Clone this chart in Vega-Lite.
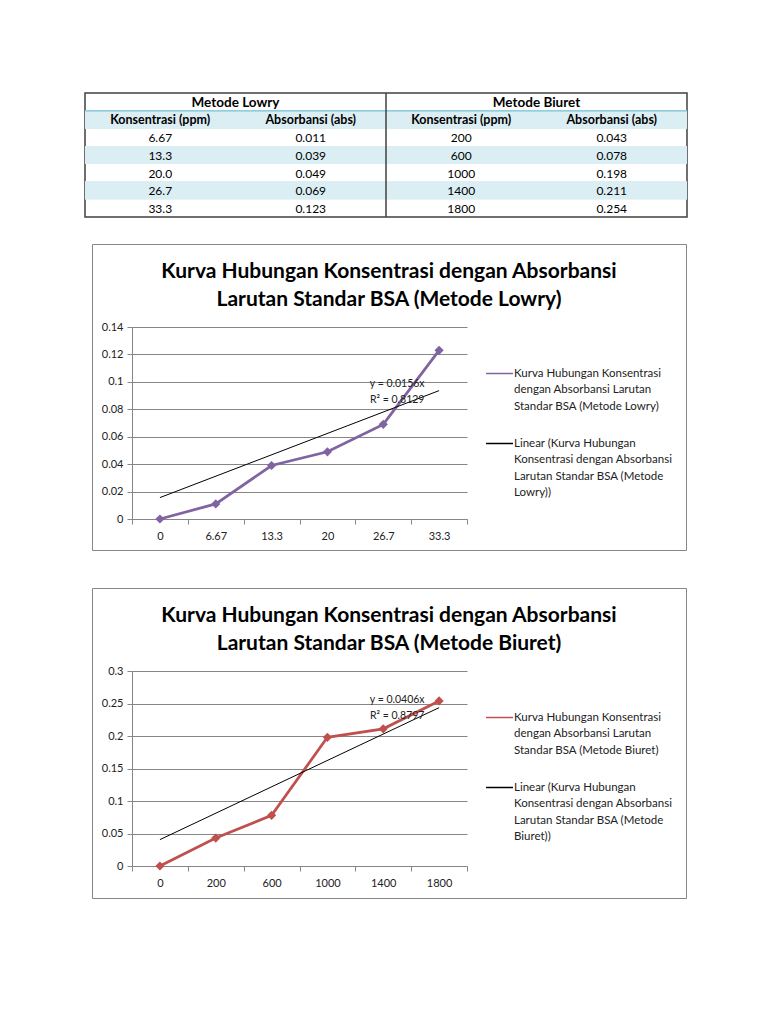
{
  "$schema": "https://vega.github.io/schema/vega-lite/v6.json",
  "background": "white",
  "padding": {"left": 83, "top": 91, "right": 0, "bottom": 0},
  "config": {
    "font": "Lato",
    "view": {"stroke": null},
    "axis": {"labelFont": "Lato", "labelFontSize": 11, "labelColor": "#222222", "domainColor": "#868686", "tickColor": "#868686", "gridColor": "#868686", "gridWidth": 1}
  },
  "datasets": {
    "tableTitle": [
      {"col": "lk", "row": "t", "text": "Metode Lowry"},
      {"col": "rk", "row": "t", "text": "Metode Biuret"}
    ],
    "tableHead": [
      {"col": "lk", "row": "h", "text": "Konsentrasi (ppm)"},
      {"col": "la", "row": "h", "text": "Absorbansi (abs)"},
      {"col": "rk", "row": "h", "text": "Konsentrasi (ppm)"},
      {"col": "ra", "row": "h", "text": "Absorbansi (abs)"}
    ],
    "tableBody": [
      {"col": "lk", "row": "r1", "text": "6.67"}, {"col": "la", "row": "r1", "text": "0.011"}, {"col": "rk", "row": "r1", "text": "200"}, {"col": "ra", "row": "r1", "text": "0.043"},
      {"col": "lk", "row": "r2", "text": "13.3"}, {"col": "la", "row": "r2", "text": "0.039"}, {"col": "rk", "row": "r2", "text": "600"}, {"col": "ra", "row": "r2", "text": "0.078"},
      {"col": "lk", "row": "r3", "text": "20.0"}, {"col": "la", "row": "r3", "text": "0.049"}, {"col": "rk", "row": "r3", "text": "1000"}, {"col": "ra", "row": "r3", "text": "0.198"},
      {"col": "lk", "row": "r4", "text": "26.7"}, {"col": "la", "row": "r4", "text": "0.069"}, {"col": "rk", "row": "r4", "text": "1400"}, {"col": "ra", "row": "r4", "text": "0.211"},
      {"col": "lk", "row": "r5", "text": "33.3"}, {"col": "la", "row": "r5", "text": "0.123"}, {"col": "rk", "row": "r5", "text": "1800"}, {"col": "ra", "row": "r5", "text": "0.254"}
    ],
    "lowry": [
      {"cat": "0", "v": 0}, {"cat": "6.67", "v": 0.011}, {"cat": "13.3", "v": 0.039},
      {"cat": "20", "v": 0.049}, {"cat": "26.7", "v": 0.069}, {"cat": "33.3", "v": 0.123}
    ],
    "lowryTrend": [{"cat": "0", "v": 0.0156}, {"cat": "33.3", "v": 0.0936}],
    "lowryEq": [
      {"cat": "26.7", "v": 0.0984, "label": "y = 0.0156x"},
      {"cat": "26.7", "v": 0.0868, "label": "R² = 0.8129"}
    ],
    "biuret": [
      {"cat": "0", "v": 0}, {"cat": "200", "v": 0.043}, {"cat": "600", "v": 0.078},
      {"cat": "1000", "v": 0.198}, {"cat": "1400", "v": 0.211}, {"cat": "1800", "v": 0.254}
    ],
    "biuretTrend": [{"cat": "0", "v": 0.0406}, {"cat": "1800", "v": 0.2436}],
    "biuretEq": [
      {"cat": "1400", "v": 0.2554, "label": "y = 0.0406x"},
      {"cat": "1400", "v": 0.2308, "label": "R² = 0.8797"}
    ]
  },
  "spacing": 19,
  "vconcat": [
    {
      "width": 602,
      "height": 124,
      "view": {"stroke": "#404040", "strokeWidth": 1.5},
      "layer": [
        {
          "data": {"name": "tableHead"},
          "mark": {"type": "rect", "fill": "#DBEEF4"},
          "encoding": {
            "y": {"field": "row", "type": "nominal", "scale": {"type": "band", "domain": ["t", "h", "r1", "r2", "r3", "r4", "r5"], "paddingInner": 0, "paddingOuter": 0}, "axis": null}
          }
        },
        {
          "data": {"name": "tableBody"},
          "transform": [{"filter": "datum.row == 'r2' || datum.row == 'r4'"}],
          "mark": {"type": "rect", "fill": "#DBEEF4"},
          "encoding": {
            "y": {"field": "row", "type": "nominal", "axis": null}
          }
        },
        {
          "data": {"name": "tableHead"},
          "mark": {"type": "rule", "color": "#93CDDD", "strokeWidth": 1.2},
          "encoding": {
            "y": {"field": "row", "type": "nominal", "bandPosition": 0, "axis": null}
          }
        },
        {
          "data": {"name": "tableTitle"},
          "transform": [{"filter": "datum.col == 'rk'"}],
          "mark": {"type": "rule", "color": "#404040", "strokeWidth": 1.5},
          "encoding": {
            "x": {"field": "col", "type": "nominal", "bandPosition": 0, "scale": {"type": "band", "domain": ["lk", "la", "rk", "ra"], "paddingInner": 0, "paddingOuter": 0}, "axis": null}
          }
        },
        {
          "data": {"name": "tableTitle"},
          "mark": {"type": "text", "font": "Lato", "fontWeight": "bold", "fontSize": 13.5, "color": "#000000", "baseline": "middle"},
          "encoding": {
            "x": {"field": "col", "type": "nominal", "bandPosition": 1, "axis": null},
            "y": {"field": "row", "type": "nominal", "bandPosition": 0.58, "axis": null},
            "text": {"field": "text"}
          }
        },
        {
          "data": {"name": "tableHead"},
          "mark": {"type": "text", "font": "Lato", "fontWeight": "bold", "fontSize": 12.5, "color": "#000000", "baseline": "middle"},
          "encoding": {
            "x": {"field": "col", "type": "nominal", "bandPosition": 0.5, "axis": null},
            "y": {"field": "row", "type": "nominal", "bandPosition": 0.55, "axis": null},
            "text": {"field": "text"}
          }
        },
        {
          "data": {"name": "tableBody"},
          "mark": {"type": "text", "font": "Lato", "fontSize": 12, "color": "#000000", "baseline": "middle"},
          "encoding": {
            "x": {"field": "col", "type": "nominal", "bandPosition": 0.5, "axis": null},
            "y": {"field": "row", "type": "nominal", "bandPosition": 0.55, "axis": null},
            "text": {"field": "text"}
          }
        }
      ]
    },
    {
      "spacing": 5,
      "hconcat": [
        {
          "width": 1,
          "height": 1,
          "view": {"stroke": null},
          "data": {"values": [{"a": 0}]},
          "mark": {"type": "text", "text": ""}
        },
        {
          "spacing": 36,
          "resolve": {"scale": {"color": "independent", "x": "independent", "y": "independent"}, "legend": {"color": "independent"}},
          "vconcat": [
            {
              "width": 594,
              "height": 306,
              "view": {"stroke": "#868686", "strokeWidth": 1},
              "title": {"text": ["Kurva Hubungan Konsentrasi dengan Absorbansi", "Larutan Standar BSA (Metode Lowry)"], "frame": "group", "anchor": "middle", "offset": -66, "font": "Lato", "fontSize": 21, "fontWeight": "bold", "lineHeight": 28, "color": "#000000"},
              "encoding": {
                "x": {"field": "cat", "type": "nominal", "bandPosition": 0.5,
                  "scale": {"type": "band", "domain": ["0", "6.67", "13.3", "20", "26.7", "33.3"], "range": [40, 375], "paddingInner": 0, "paddingOuter": 0},
                  "axis": {"orient": "bottom", "offset": -31, "tickBand": "extent", "tickSize": 5, "labelPadding": 6, "labelAngle": 0, "grid": false, "title": null}},
                "y": {"field": "v", "type": "quantitative",
                  "scale": {"domain": [0, 0.14], "range": [275, 83], "nice": false, "zero": false},
                  "axis": {"orient": "left", "offset": -40, "values": [0, 0.02, 0.04, 0.06, 0.08, 0.1, 0.12, 0.14], "format": ".2~f", "tickSize": 5, "labelPadding": 4, "grid": true, "title": null}}
              },
              "layer": [
                {
                  "data": {"name": "lowry"},
                  "mark": {"type": "line", "strokeWidth": 2.75},
                  "encoding": {
                    "color": {"datum": "Kurva Hubungan Konsentrasi dengan Absorbansi Larutan Standar BSA (Metode Lowry)", "type": "nominal",
                      "scale": {"domain": ["Kurva Hubungan Konsentrasi dengan Absorbansi Larutan Standar BSA (Metode Lowry)", "Linear (Kurva Hubungan Konsentrasi dengan Absorbansi Larutan Standar BSA (Metode Lowry))"], "range": ["#8064A2", "#000000"]},
                      "legend": {"orient": "none", "legendX": 393, "legendY": 115, "title": null, "padding": 0, "labelFont": "Lato", "labelFontSize": 11.5, "labelColor": "#222222", "labelLimit": 400, "labelOffset": 0, "symbolSize": 729, "rowPadding": 17,
                        "labelExpr": "indexof(datum.label, 'Linear') == 0 ? ['Linear (Kurva Hubungan', 'Konsentrasi dengan Absorbansi', 'Larutan Standar BSA (Metode', 'Lowry))'] : ['Kurva Hubungan Konsentrasi', 'dengan Absorbansi Larutan', 'Standar BSA (Metode Lowry)']",
                        "encode": {"labels": {"update": {"lineHeight": {"value": 16.5}}}}
                      }
                    }
                  }
                },
                {
                  "data": {"name": "lowry"},
                  "mark": {"type": "point", "shape": "diamond", "filled": true, "size": 85, "color": "#8064A2", "opacity": 1}
                },
                {
                  "data": {"name": "lowryTrend"},
                  "mark": {"type": "line", "strokeWidth": 1},
                  "encoding": {
                    "color": {"datum": "Linear (Kurva Hubungan Konsentrasi dengan Absorbansi Larutan Standar BSA (Metode Lowry))", "type": "nominal"}
                  }
                },
                {
                  "data": {"name": "lowryEq"},
                  "mark": {"type": "text", "font": "Lato", "fontSize": 10.5, "color": "#222222", "align": "center", "baseline": "middle"},
                  "encoding": {
                    "x": {"field": "cat", "type": "nominal", "bandPosition": 0.75},
                    "text": {"field": "label"}
                  }
                }
              ]
            },
            {
              "width": 594,
              "height": 310,
              "view": {"stroke": "#868686", "strokeWidth": 1},
              "title": {"text": ["Kurva Hubungan Konsentrasi dengan Absorbansi", "Larutan Standar BSA (Metode Biuret)"], "frame": "group", "anchor": "middle", "offset": -66, "font": "Lato", "fontSize": 21, "fontWeight": "bold", "lineHeight": 28, "color": "#000000"},
              "encoding": {
                "x": {"field": "cat", "type": "nominal", "bandPosition": 0.5,
                  "scale": {"type": "band", "domain": ["0", "200", "600", "1000", "1400", "1800"], "range": [40, 375], "paddingInner": 0, "paddingOuter": 0},
                  "axis": {"orient": "bottom", "offset": -32, "tickBand": "extent", "tickSize": 5, "labelPadding": 6, "labelAngle": 0, "grid": false, "title": null}},
                "y": {"field": "v", "type": "quantitative",
                  "scale": {"domain": [0, 0.3], "range": [278, 83], "nice": false, "zero": false},
                  "axis": {"orient": "left", "offset": -40, "values": [0, 0.05, 0.1, 0.15, 0.2, 0.25, 0.3], "format": ".2~f", "tickSize": 5, "labelPadding": 4, "grid": true, "title": null}}
              },
              "layer": [
                {
                  "data": {"name": "biuret"},
                  "mark": {"type": "line", "strokeWidth": 2.75},
                  "encoding": {
                    "color": {"datum": "Kurva Hubungan Konsentrasi dengan Absorbansi Larutan Standar BSA (Metode Biuret)", "type": "nominal",
                      "scale": {"domain": ["Kurva Hubungan Konsentrasi dengan Absorbansi Larutan Standar BSA (Metode Biuret)", "Linear (Kurva Hubungan Konsentrasi dengan Absorbansi Larutan Standar BSA (Metode Biuret))"], "range": ["#C0504D", "#000000"]},
                      "legend": {"orient": "none", "legendX": 393, "legendY": 115, "title": null, "padding": 0, "labelFont": "Lato", "labelFontSize": 11.5, "labelColor": "#222222", "labelLimit": 400, "labelOffset": 0, "symbolSize": 729, "rowPadding": 17,
                        "labelExpr": "indexof(datum.label, 'Linear') == 0 ? ['Linear (Kurva Hubungan', 'Konsentrasi dengan Absorbansi', 'Larutan Standar BSA (Metode', 'Biuret))'] : ['Kurva Hubungan Konsentrasi', 'dengan Absorbansi Larutan', 'Standar BSA (Metode Biuret)']",
                        "encode": {"labels": {"update": {"lineHeight": {"value": 16.5}}}}
                      }
                    }
                  }
                },
                {
                  "data": {"name": "biuret"},
                  "mark": {"type": "point", "shape": "diamond", "filled": true, "size": 85, "color": "#C0504D", "opacity": 1}
                },
                {
                  "data": {"name": "biuretTrend"},
                  "mark": {"type": "line", "strokeWidth": 1},
                  "encoding": {
                    "color": {"datum": "Linear (Kurva Hubungan Konsentrasi dengan Absorbansi Larutan Standar BSA (Metode Biuret))", "type": "nominal"}
                  }
                },
                {
                  "data": {"name": "biuretEq"},
                  "mark": {"type": "text", "font": "Lato", "fontSize": 10.5, "color": "#222222", "align": "center", "baseline": "middle"},
                  "encoding": {
                    "x": {"field": "cat", "type": "nominal", "bandPosition": 0.75},
                    "text": {"field": "label"}
                  }
                }
              ]
            }
          ]
        }
      ]
    }
  ]
}
